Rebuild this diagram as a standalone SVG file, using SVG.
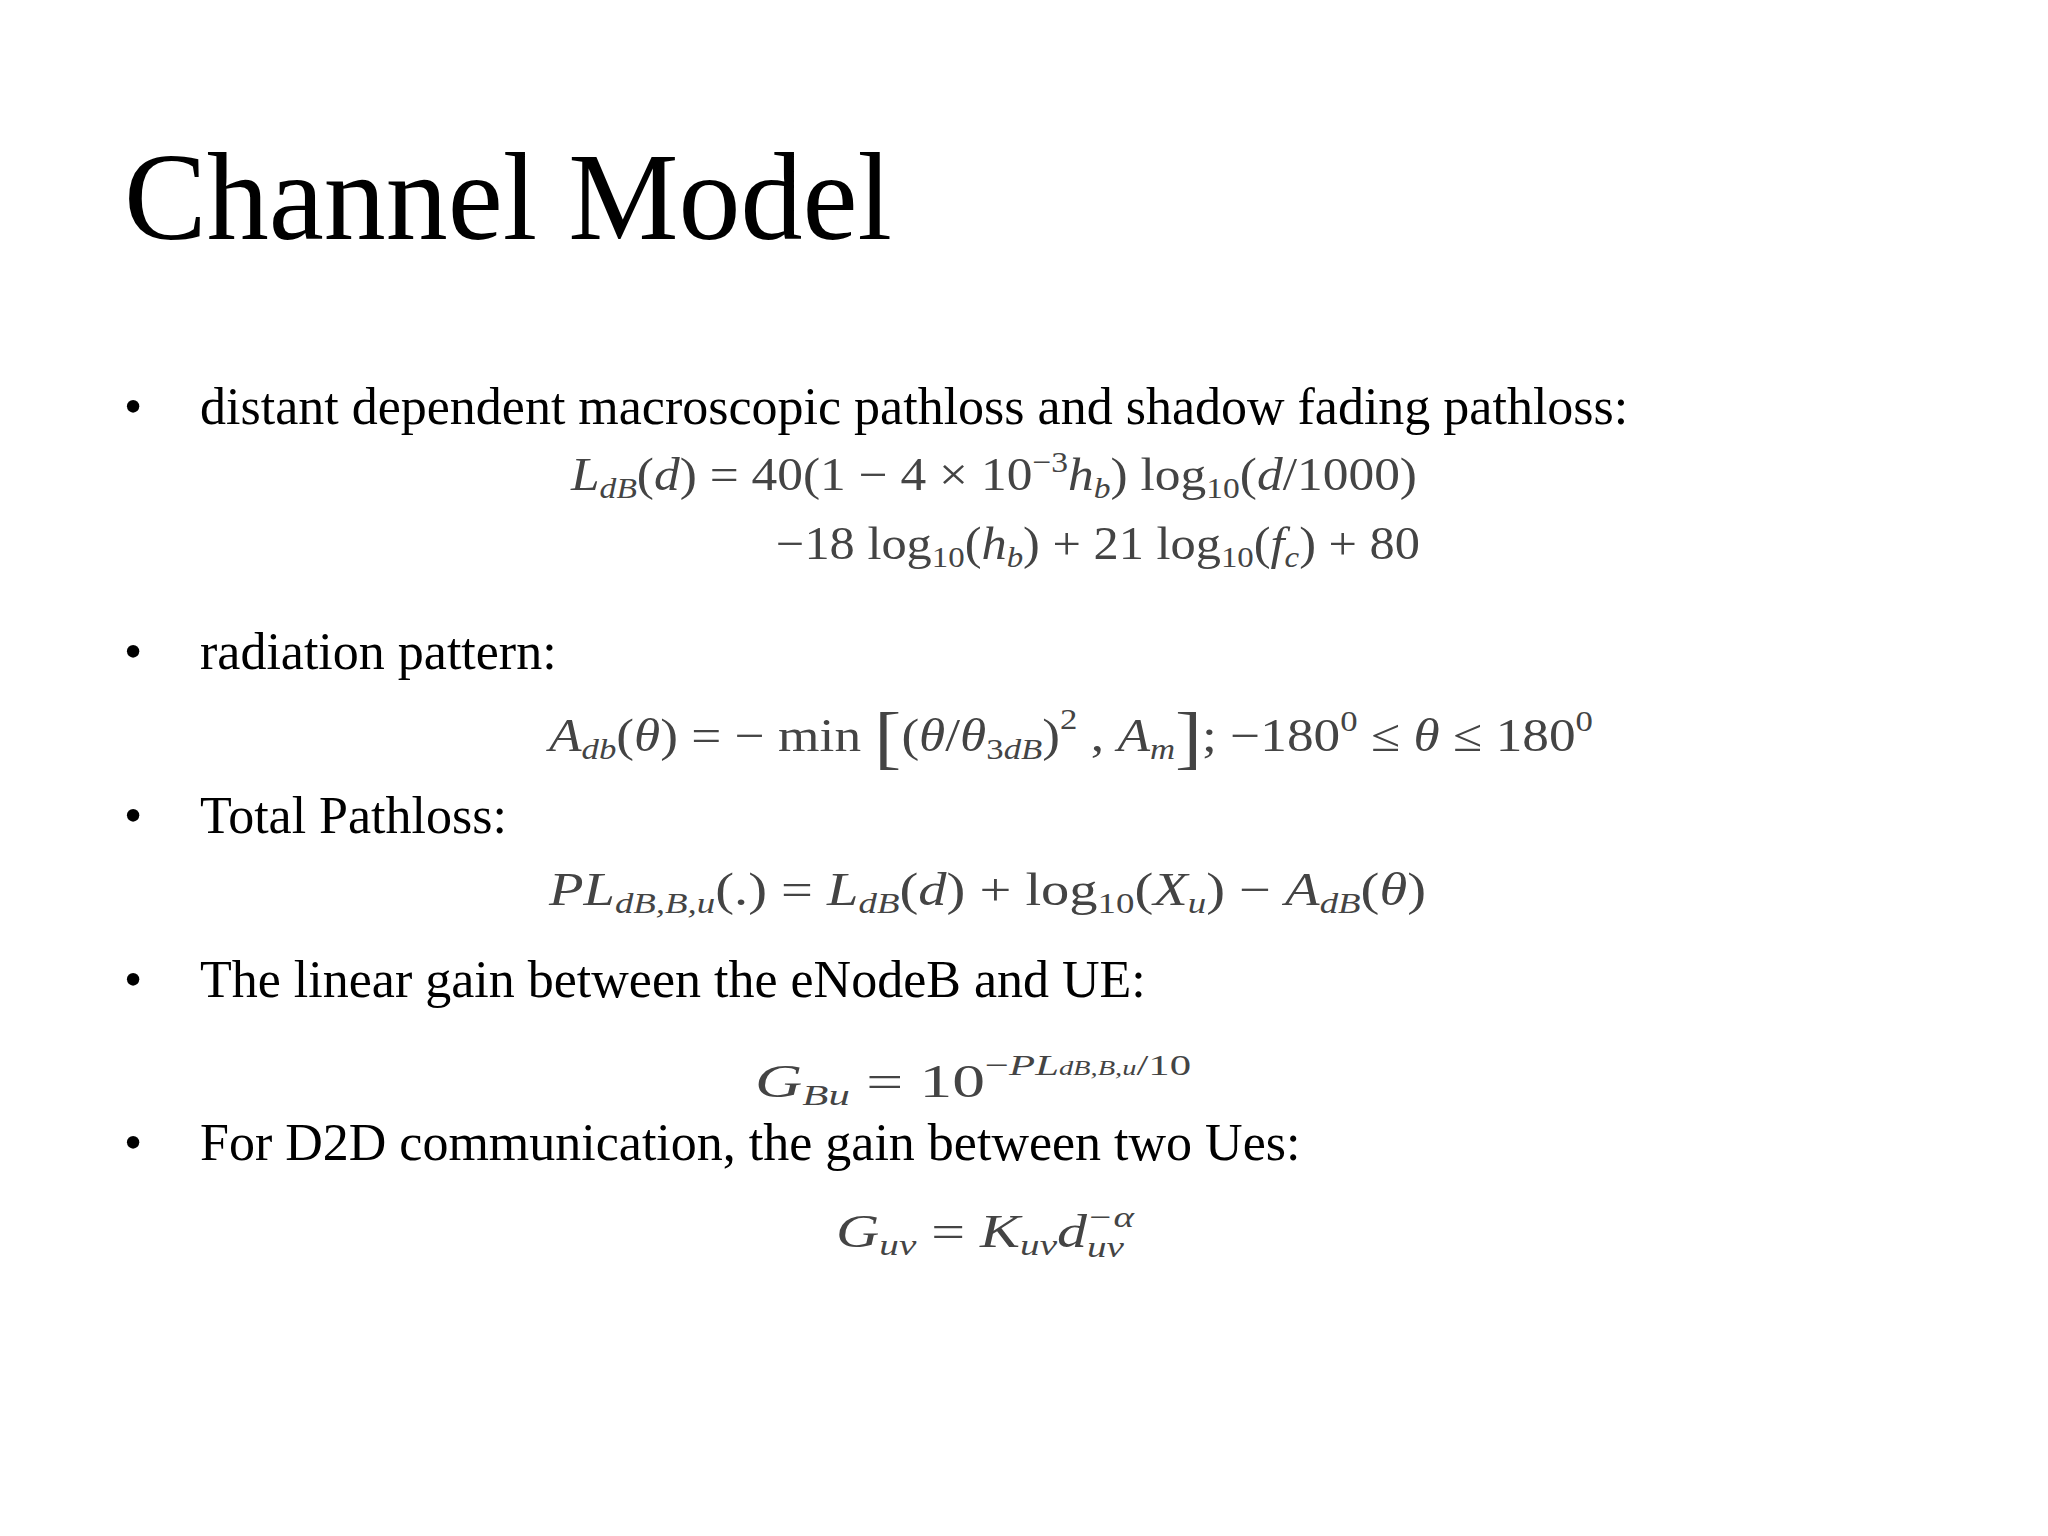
<svg xmlns="http://www.w3.org/2000/svg" width="2048" height="1536" viewBox="0 0 2048 1536">
<style>
.t{font-family:"Liberation Serif",serif;fill:#000}
.b{font-size:52px}
.m{font-family:"Liberation Serif",serif;font-size:46px;fill:#444}
.i{font-style:italic}
.s{font-size:30px}
</style>
<rect width="2048" height="1536" fill="#fff"/>
<text class="t" x="124" y="239" font-size="124">Channel Model</text>
<g id="bullets" class="t b">
<text x="124" y="424">•</text><text x="200" y="424">distant dependent macroscopic pathloss and shadow fading pathloss:</text>
<text x="124" y="669">•</text><text x="200" y="669">radiation pattern:</text>
<text x="124" y="833">•</text><text x="200" y="833">Total Pathloss:</text>
<text x="124" y="997">•</text><text x="200" y="997">The linear gain between the eNodeB and UE:</text>
<text x="124" y="1160">•</text><text x="200" y="1160">For D2D communication, the gain between two Ues:</text>
</g>
<g id="equations">
<text class="m" x="571" y="490" textLength="846" lengthAdjust="spacingAndGlyphs"><tspan class="i">L</tspan><tspan class="i s" dy="8">dB</tspan><tspan dy="-8">(</tspan><tspan class="i">d</tspan>) = 40(1 − 4 × 10<tspan class="s" dy="-18">−3</tspan><tspan class="i" dy="18">h</tspan><tspan class="i s" dy="8">b</tspan><tspan dy="-8">) log</tspan><tspan class="s" dy="8">10</tspan><tspan dy="-8">(</tspan><tspan class="i">d</tspan>/1000)</text>
<text class="m" x="776" y="559" textLength="644" lengthAdjust="spacingAndGlyphs">−18 log<tspan class="s" dy="8">10</tspan><tspan dy="-8">(</tspan><tspan class="i">h</tspan><tspan class="i s" dy="8">b</tspan><tspan dy="-8">) + 21 log</tspan><tspan class="s" dy="8">10</tspan><tspan dy="-8">(</tspan><tspan class="i">f</tspan><tspan class="i s" dy="8">c</tspan><tspan dy="-8">) + 80</tspan></text>
<text class="m" x="549" y="751" textLength="1044" lengthAdjust="spacingAndGlyphs"><tspan class="i">A</tspan><tspan class="i s" dy="8">db</tspan><tspan dy="-8">(</tspan><tspan class="i">θ</tspan>) = − min <tspan font-size="70" dy="10">[</tspan><tspan dy="-10">(</tspan><tspan class="i">θ</tspan>/<tspan class="i">θ</tspan><tspan class="s" dy="8">3</tspan><tspan class="i s">dB</tspan><tspan dy="-8">)</tspan><tspan class="s" dy="-22">2</tspan><tspan dy="22"> , </tspan><tspan class="i">A</tspan><tspan class="i s" dy="8">m</tspan><tspan font-size="70" dy="2">]</tspan><tspan dy="-10">;   −180</tspan><tspan class="s" dy="-20">0</tspan><tspan dy="20"> ≤ </tspan><tspan class="i">θ</tspan> ≤ 180<tspan class="s" dy="-20">0</tspan></text>
<text class="m" x="549" y="905" textLength="877" lengthAdjust="spacingAndGlyphs"><tspan class="i">PL</tspan><tspan class="i s" dy="8">dB,B,u</tspan><tspan dy="-8">(.) = </tspan><tspan class="i">L</tspan><tspan class="i s" dy="8">dB</tspan><tspan dy="-8">(</tspan><tspan class="i">d</tspan>) + log<tspan class="s" dy="8">10</tspan><tspan dy="-8">(</tspan><tspan class="i">X</tspan><tspan class="i s" dy="8">u</tspan><tspan dy="-8">) − </tspan><tspan class="i">A</tspan><tspan class="i s" dy="8">dB</tspan><tspan dy="-8">(</tspan><tspan class="i">θ</tspan>)</text>
<text class="m" x="755" y="1097" textLength="436" lengthAdjust="spacingAndGlyphs"><tspan class="i">G</tspan><tspan class="i s" dy="8">Bu</tspan><tspan dy="-8"> = 10</tspan><tspan class="s" dy="-22">−</tspan><tspan class="s i">PL</tspan><tspan class="i" font-size="20">dB,B,u</tspan><tspan class="s">/10</tspan></text>
<text class="m" x="836" y="1247" textLength="298" lengthAdjust="spacingAndGlyphs"><tspan class="i">G</tspan><tspan class="i s" dy="8">uv</tspan><tspan dy="-8"> = </tspan><tspan class="i">K</tspan><tspan class="i s" dy="8">uv</tspan><tspan class="i" dy="-8">d</tspan><tspan class="i s" dy="-20">−α</tspan><tspan class="i s" dx="-36" dy="30">uv</tspan></text>
</g>
</svg>
